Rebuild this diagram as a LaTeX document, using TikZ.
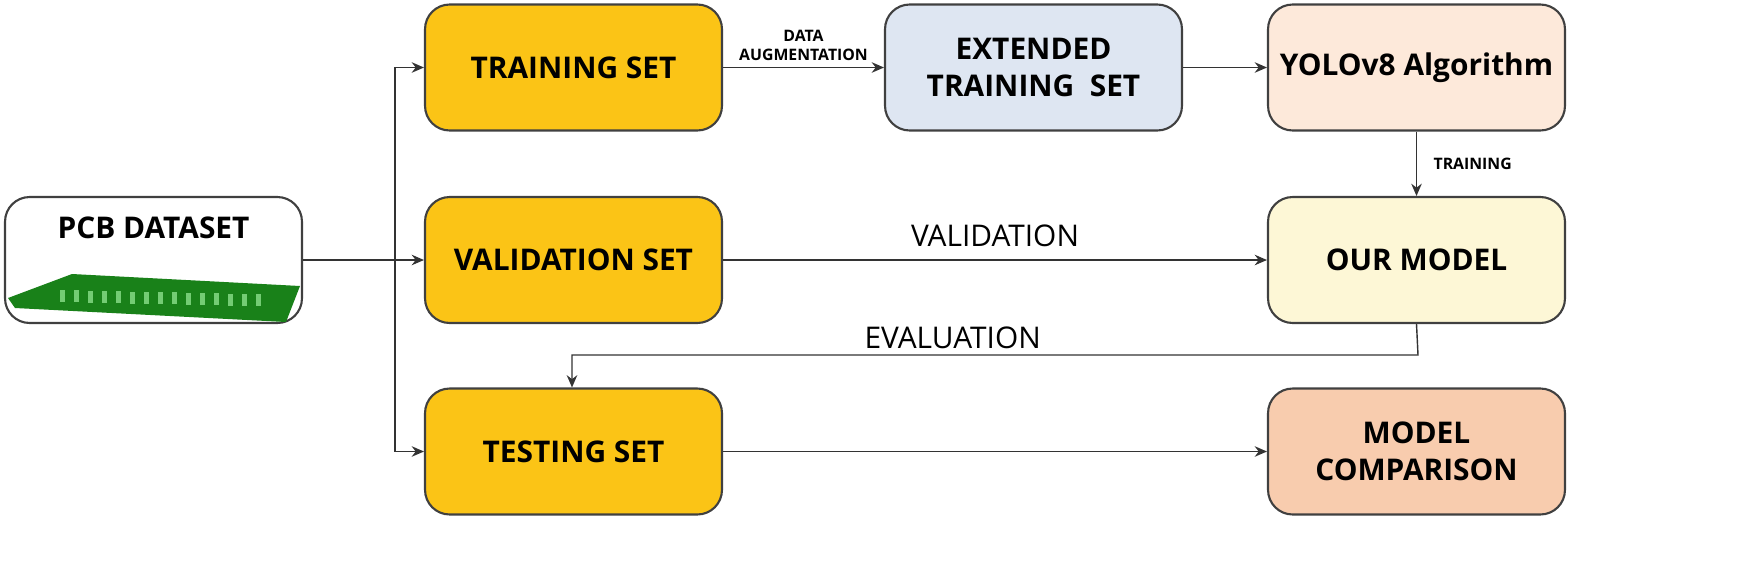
\documentclass[tikz,border=0pt]{standalone}
\usepackage{fontspec}
\usetikzlibrary{arrows.meta}
\setmainfont{Open Sans}
\begin{document}
\begin{tikzpicture}[x=0.02cm,y=-0.02cm,
  box/.style={draw=black!75,line width=1.2pt,rounded corners=14pt,minimum width=5.94cm,minimum height=2.52cm,align=center,font=\bfseries\fontsize{17}{21}\selectfont},
  arr/.style={-{Stealth[length=7pt,width=6pt]},draw=black!80,line width=0.8pt},
  lab/.style={font=\fontsize{17}{20}\selectfont},
  slab/.style={font=\bfseries\fontsize{9}{11}\selectfont,align=center}]
\useasboundingbox (0,0) rectangle (1750,579);
\definecolor{ylw}{HTML}{FBC416}
\node[box,fill=white,text depth=1.3cm] (pcb) at (153.5,260) {PCB DATASET};
\fill[green!45!black!90] (8,298) -- (72,274) -- (300,286) -- (286,322) -- (15,308) -- cycle;
\foreach \i in {0,...,14}{\fill[green!30!white,opacity=.6] (60+14*\i,290+0.3*\i) rectangle +(5,12);}
\node[box,fill=ylw] (train) at (573.5,67.5) {TRAINING SET};
\node[box,fill=ylw] (val) at (573.5,260) {VALIDATION SET};
\node[box,fill=ylw] (test) at (573.5,451.5) {TESTING SET};
\node[box,fill={rgb,255:red,222;green,230;blue,242}] (ext) at (1033.5,67.5) {EXTENDED\\TRAINING\ \ SET};
\node[box,fill={rgb,255:red,253;green,233;blue,218}] (yolo) at (1416.5,67.5) {YOLOv8 Algorithm};
\node[box,fill={rgb,255:red,253;green,247;blue,214}] (ours) at (1416.5,260) {OUR MODEL};
\node[box,fill={rgb,255:red,248;green,204;blue,174}] (cmp) at (1416.5,451.5) {MODEL\\COMPARISON};
\coordinate (split) at (395,260);
\draw[draw=black!80,line width=0.8pt] (pcb.east) -- (split);
\draw[arr] (split) |- (train.west);
\draw[arr] (split) -- (val.west);
\draw[arr] (split) |- (test.west);
\draw[arr] (train) -- node[slab,above]{DATA\\AUGMENTATION} (ext);
\draw[arr] (ext) -- (yolo);
\draw[arr] (yolo) -- node[slab,right,xshift=6pt]{TRAINING} (ours);
\draw[arr] (val) -- node[lab,above,yshift=4pt]{VALIDATION} (ours);
\draw[arr] (test) -- (cmp);
\coordinate (eb) at (1418,355);
\coordinate (ea) at (572,355);
\draw[arr] (ours.south) -- (eb) -- node[lab,above,pos=0.55]{EVALUATION} (ea) -- (test.north -| ea);
\end{tikzpicture}
\end{document}
